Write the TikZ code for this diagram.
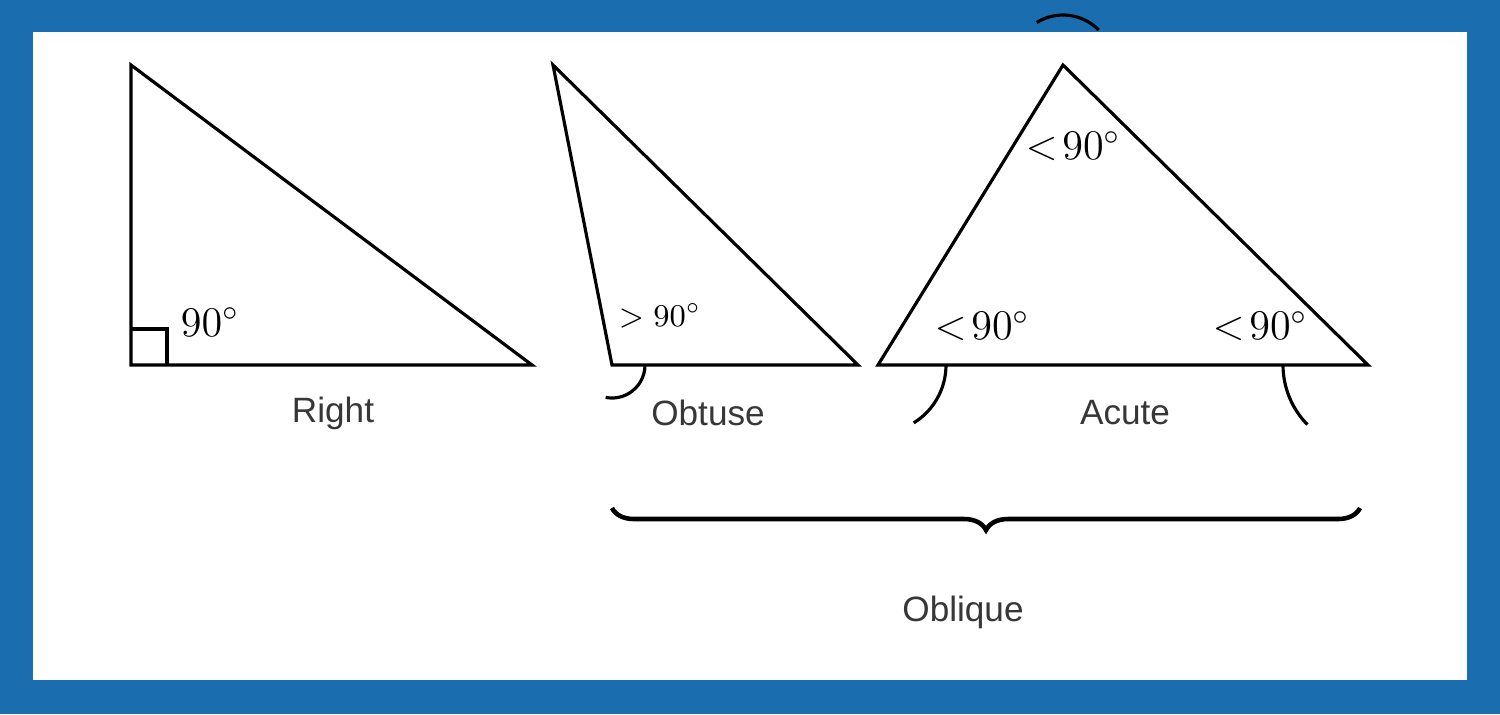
\documentclass[tikz,border=0pt]{standalone}
\usepackage{fontspec}
\setsansfont{Liberation Sans}
\usetikzlibrary{decorations.pathreplacing}
\definecolor{frameblue}{RGB}{26,110,176}
\definecolor{lbl}{RGB}{55,55,55}
\begin{document}
\begin{tikzpicture}[x=0.01cm,y=-0.01cm,
  tri/.style={line width=0.9pt,line join=miter},
  ang/.style={line width=0.9pt},
  captxt/.style={font=\sffamily\fontsize{10}{12}\selectfont,text=lbl},
  deg/.style={font=\fontsize{12}{14}\selectfont}]
\fill[frameblue] (0,0) rectangle (1500,714);
\fill[white] (33,32) rectangle (1467,680);
\useasboundingbox (0,0) rectangle (1500,714);
% right
\coordinate (rA) at (131,65); \coordinate (rB) at (131,365); \coordinate (rC) at (532,365);
\draw[tri] (rA) -- (rB) -- (rC) -- cycle;
\draw[ang] (131,329) -| (167,365);
\node[deg] (r90) at (210,322) {$90^\circ$};
\node[captxt] (right) at (333,413) {Right};
% obtuse
\coordinate (oA) at (553,65); \coordinate (oB) at (612,365); \coordinate (oC) at (858,365);
\draw[tri] (oA) -- (oB) -- (oC) -- cycle;
\draw[ang] ([shift={(0:33)}]oB) arc[start angle=0,end angle=101.1,radius=33];
\node[font=\fontsize{9}{11}\selectfont] (o90) at (660,316) {$>90^\circ$};
\node[captxt] (obtuse) at (708,413) {Obtuse};
% acute
\coordinate (aT) at (1063,65); \coordinate (aL) at (878,365); \coordinate (aR) at (1368,365);
\draw[tri] (aT) -- (aL) -- (aR) -- cycle;
\draw[ang] ([shift={(238.3:50)}]aT) arc[start angle=238.3,end angle=315.5,radius=50];
\draw[ang] ([shift={(0:68)}]aL) arc[start angle=0,end angle=58.3,radius=68];
\draw[ang] ([shift={(135.5:85)}]aR) arc[start angle=135.5,end angle=180,radius=85];
\node[deg] (a1) at (1073,146) {$<\!90^\circ$};
\node[deg] (a2) at (982,326) {$<\!90^\circ$};
\node[deg] (a3) at (1260,326) {$<\!90^\circ$};
\node[captxt] (acute) at (1125,413) {Acute};
% brace
\coordinate (bL) at (612,508); \coordinate (bR) at (1360,508);
\draw[line width=1.3pt,decorate,decoration={brace,mirror,amplitude=0.22cm}] (bL) -- (bR);
\node[captxt] (oblique) at (963,612) {Oblique};
\end{tikzpicture}
\end{document}
